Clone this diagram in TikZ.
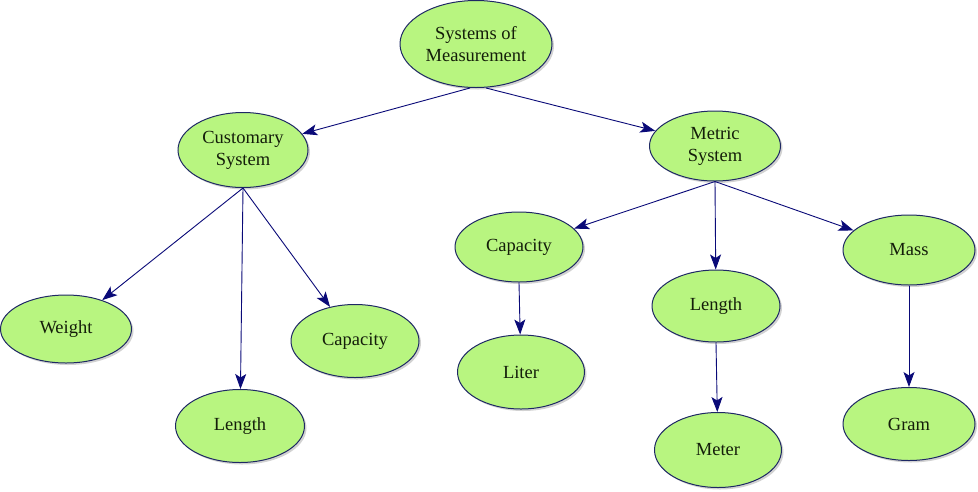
\documentclass[tikz,border=0pt]{standalone}
\usepackage{fontspec}
\setmainfont{Liberation Serif}
\usetikzlibrary{shapes.geometric,arrows.meta,shadows}
\definecolor{nodefill}{RGB}{184,245,128}
\definecolor{nodeline}{RGB}{30,40,100}
\definecolor{edgecol}{RGB}{10,10,120}
\definecolor{txt}{RGB}{20,30,10}
\begin{document}
\begin{tikzpicture}[x=1pt,y=-1pt,
  bub/.style={ellipse,draw=nodeline,line width=1pt,fill=nodefill,inner sep=0pt,
    align=center,text=txt,font=\fontsize{18.5}{22}\selectfont,
    drop shadow={shadow xshift=2pt,shadow yshift=-2pt,opacity=0.35,fill=gray}},
  link/.style={draw=edgecol,line width=0.9pt,-{Stealth[length=15pt,width=11pt,inset=3.5pt]}}]
\useasboundingbox[fill=white] (0,0) rectangle (978,491);
\node[bub,minimum width=152pt,minimum height=87pt] (sys) at (476,44) {Systems of\\Measurement};
\node[bub,minimum width=130pt,minimum height=75pt] (cus) at (243,150) {Customary\\System};
\node[bub,minimum width=131pt,minimum height=70pt] (met) at (715,146) {Metric\\System};
\node[bub,minimum width=131pt,minimum height=68pt] (wei) at (66,329) {Weight};
\node[bub,minimum width=129pt,minimum height=73pt] (len1) at (240,426) {Length};
\node[bub,minimum width=128pt,minimum height=73pt] (cap1) at (355,341) {Capacity};
\node[bub,minimum width=128pt,minimum height=70pt] (cap2) at (519,247) {Capacity};
\node[bub,minimum width=127pt,minimum height=74pt] (lit) at (521,372) {Liter};
\node[bub,minimum width=128pt,minimum height=72pt] (len2) at (716,306) {Length};
\node[bub,minimum width=127pt,minimum height=75pt] (mtr) at (718,450) {Meter};
\node[bub,minimum width=132pt,minimum height=70pt] (mas) at (909,250) {Mass};
\node[bub,minimum width=132pt,minimum height=73pt] (grm) at (909,424) {Gram};
\draw[link] ([xshift=-6pt]sys.south) -- (cus);
\draw[link] ([xshift=10pt]sys.south) -- (met);
\draw[link] (cus.south) -- (wei);
\draw[link] (cus.south) -- (len1);
\draw[link] (cus.south) -- (cap1);
\draw[link] (met.south) -- (cap2);
\draw[link] (met.south) -- (len2);
\draw[link] (met.south) -- (mas);
\draw[link] (cap2.south) -- (lit);
\draw[link] (len2.south) -- (mtr);
\draw[link] (mas.south) -- (grm);
\end{tikzpicture}
\end{document}
